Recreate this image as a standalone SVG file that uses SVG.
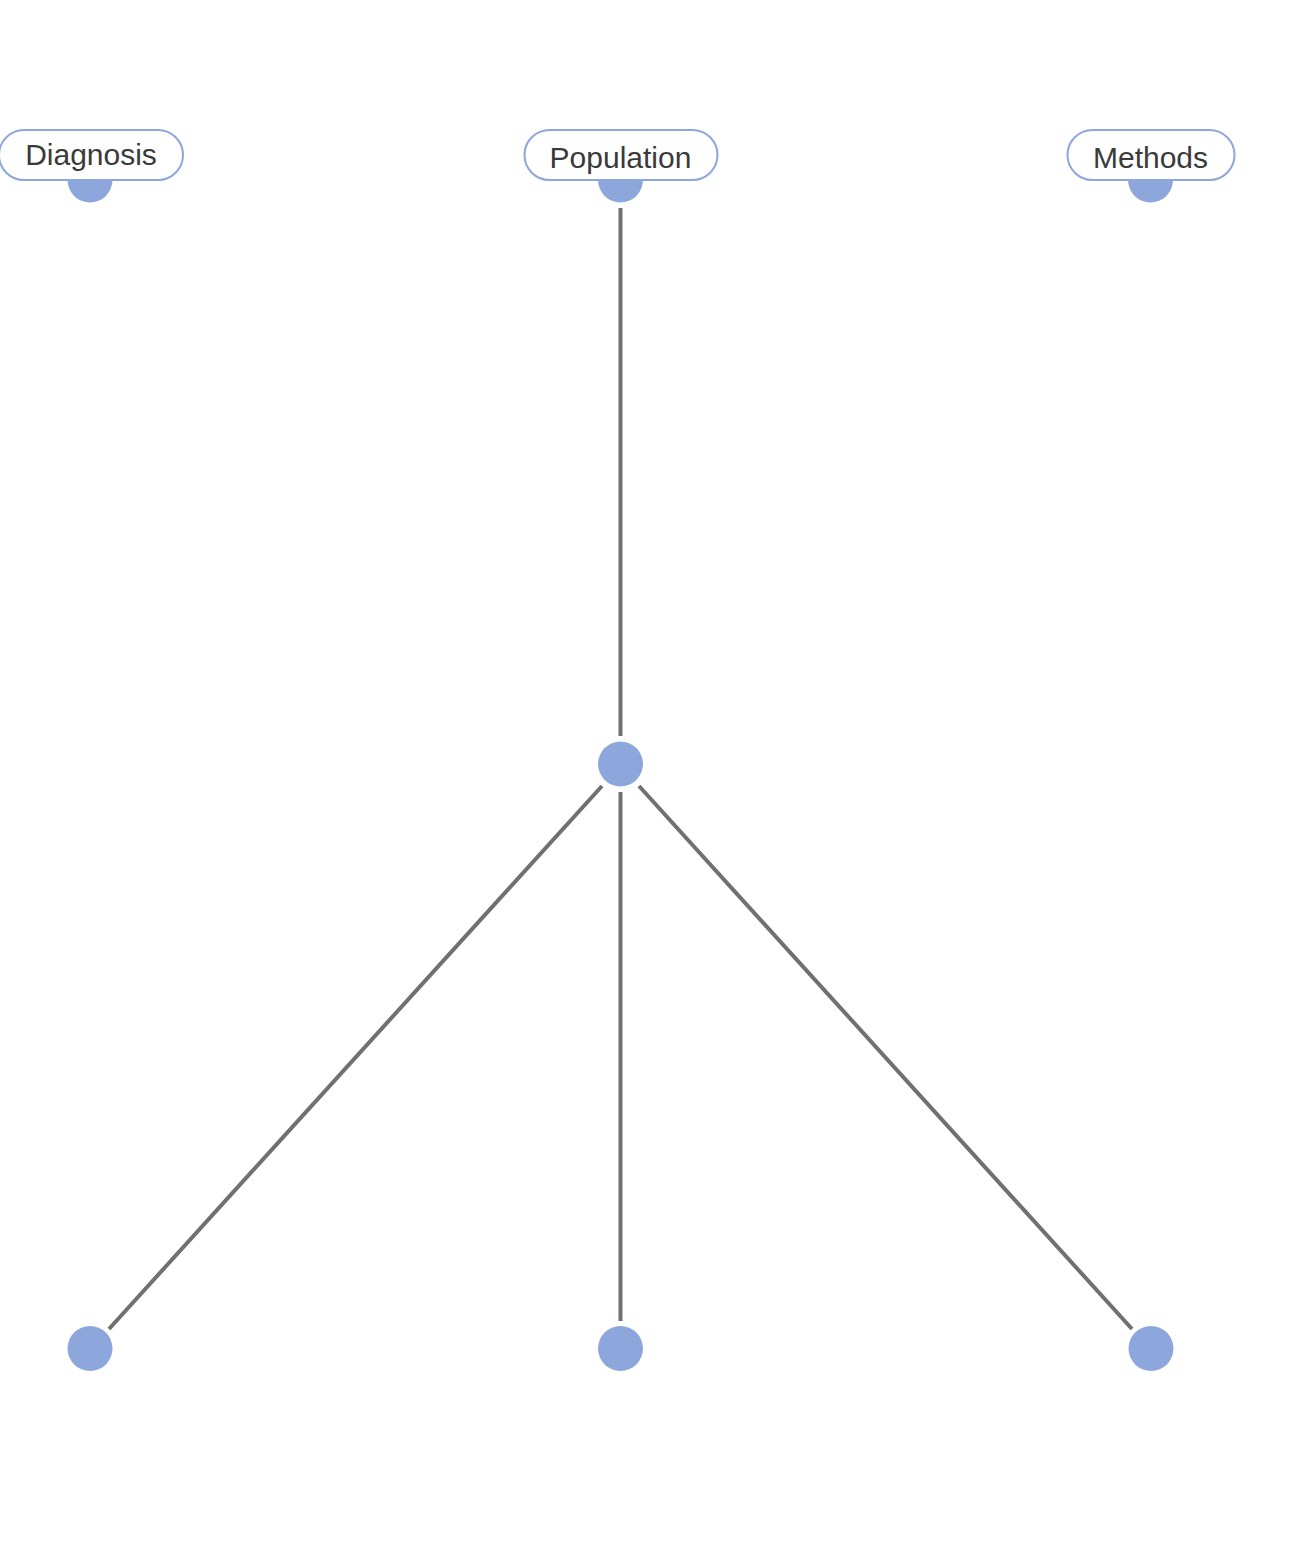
<svg xmlns="http://www.w3.org/2000/svg" width="1305" height="1556" viewBox="0 0 1305 1556">
<style>
.node{fill:#8da6db;}
.edge{stroke:#707070;stroke-width:4;fill:none;}
.lbl{fill:#fff;stroke:#8da6db;stroke-width:2;}
.txt{font-family:"Liberation Sans",Arial,sans-serif;font-size:30px;fill:#3a3a3a;text-anchor:middle;}
</style>
<rect width="1305" height="1556" fill="#fff"/>
<g id="connectors">
<line class="edge" x1="620.5" y1="208" x2="620.5" y2="736"/>
<line class="edge" x1="602" y1="786" x2="109" y2="1329"/>
<line class="edge" x1="620.5" y1="792" x2="620.5" y2="1321"/>
<line class="edge" x1="639" y1="786" x2="1132" y2="1329"/>
</g>
<g id="center"><circle class="node" cx="620.5" cy="764" r="22.5"/></g>
<g id="bottom-left"><circle class="node" cx="90" cy="1348.5" r="22.5"/></g>
<g id="bottom-middle"><circle class="node" cx="620.5" cy="1348.5" r="22.5"/></g>
<g id="bottom-right"><circle class="node" cx="1151" cy="1348.5" r="22.5"/></g>
<g id="diagnosis">
<circle class="node" cx="90" cy="180" r="22.5"/>
<rect class="lbl" x="-1" y="130" width="184" height="50" rx="25"/>
<text class="txt" x="91" y="165">Diagnosis</text>
</g>
<g id="population">
<circle class="node" cx="620.5" cy="180" r="22.5"/>
<rect class="lbl" x="524.5" y="130" width="193" height="50" rx="25"/>
<text class="txt" x="620.5" y="167.5">Population</text>
</g>
<g id="methods">
<circle class="node" cx="1150.5" cy="180" r="22.5"/>
<rect class="lbl" x="1067.5" y="130" width="167" height="50" rx="25"/>
<text class="txt" x="1150.5" y="167.5">Methods</text>
</g>
</svg>
